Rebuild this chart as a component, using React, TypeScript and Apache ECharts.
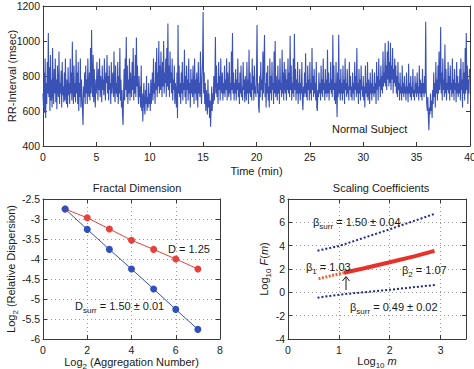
import React, { useEffect, useRef } from "react";
import * as echarts from "echarts";

const rrTimeStep = 0.05;
const rrValues = [
  700, 620, 820, 590, 900, 560, 760, 640, 880, 700, 1046, 680, 850, 600, 920, 660, 780, 620, 960, 700,
  640, 840, 700, 900, 650, 780, 610, 860, 720, 680, 940, 640, 760, 700, 830, 620, 880, 690, 740, 650,
  820, 660, 900, 700, 640, 780, 620, 850, 690, 760, 640, 900, 700, 820, 660, 995, 720, 640, 860, 680,
  760, 650, 950, 700, 820, 640, 880, 600, 760, 680, 900, 620, 780, 700, 600, 520, 740, 680, 820, 640,
  860, 700, 780, 640, 900, 720, 680, 820, 660, 960, 700, 1063, 760, 680, 920, 650, 840, 700, 620, 780,
  700, 880, 760, 660, 840, 720, 900, 680, 800, 740, 650, 860, 720, 780, 690, 900, 740, 660, 820, 760,
  920, 700, 800, 660, 860, 720, 760, 640, 880, 700, 780, 820, 680, 940, 720, 650, 860, 700, 760, 680,
  880, 640, 800, 700, 960, 660, 780, 620, 720, 580, 520, 700, 840, 660, 900, 720, 1023, 680, 860, 640,
  780, 700, 900, 660, 820, 740, 680, 880, 720, 960, 660, 800, 700, 920, 680, 1020, 740, 860, 700, 640,
  800, 680, 740, 620, 860, 600, 700, 540, 660, 760, 620, 580, 720, 640, 800, 600, 680, 620, 760, 640,
  700, 600, 780, 640, 720, 820, 660, 900, 700, 760, 640, 880, 720, 960, 680, 820, 740, 1000, 700, 860,
  720, 940, 760, 680, 880, 740, 1000, 700, 820, 760, 900, 680, 960, 740, 1100, 720, 860, 680, 940, 760,
  820, 700, 900, 660, 780, 720, 860, 640, 760, 700, 620, 820, 560, 1091, 700, 860, 680, 760, 640, 820,
  700, 880, 660, 760, 720, 950, 680, 800, 640, 860, 720, 780, 660, 900, 700, 760, 620, 840, 700, 780,
  680, 860, 720, 640, 900, 700, 780, 660, 820, 740, 620, 880, 700, 760, 680, 940, 720, 640, 800, 880,
  1166, 700, 820, 640, 760, 600, 720, 660, 580, 780, 620, 700, 560, 660, 510, 620, 740, 600, 700, 640,
  800, 660, 760, 1023, 700, 860, 680, 760, 640, 880, 720, 800, 660, 900, 740, 700, 820, 660, 760, 700,
  860, 680, 780, 720, 900, 660, 820, 740, 680, 880, 700, 760, 660, 940, 720, 1045, 700, 820, 660, 760,
  700, 840, 660, 780, 720, 900, 680, 760, 640, 820, 700, 860, 680, 740, 660, 880, 720, 780, 650, 800,
  720, 660, 880, 700, 780, 640, 950, 700, 820, 680, 760, 660, 900, 720, 800, 660, 860, 700, 740, 680,
  820, 1091, 700, 760, 620, 590, 800, 680, 880, 720, 780, 660, 940, 700, 860, 1034, 680, 760, 620, 820,
  700, 860, 660, 740, 620, 900, 700, 800, 660, 880, 720, 760, 640, 940, 700, 1000, 680, 800, 720, 660,
  860, 700, 780, 640, 900, 720, 760, 680, 950, 700, 820, 660, 880, 740, 700, 840, 660, 780, 720, 900,
  700, 820, 680, 1030, 720, 860, 660, 760, 700, 900, 680, 1040, 720, 840, 660, 780, 700, 880, 640, 760,
  700, 840, 660, 760, 700, 880, 660, 605, 740, 680, 820, 700, 930, 680, 760, 660, 860, 720, 780, 660,
  880, 700, 760, 660, 960, 720, 800, 680, 840, 700, 760, 660, 880, 620, 600, 720, 680, 820, 700, 760,
  660, 860, 700, 780, 680, 900, 720, 760, 660, 840, 700, 780, 680, 950, 700, 820, 660, 760, 720, 880,
  700, 780, 680, 1034, 720, 860, 660, 760, 640, 880, 700, 566, 820, 680, 1036, 700, 780, 660, 840, 700,
  760, 660, 860, 700, 780, 640, 900, 720, 760, 680, 840, 700, 740, 660, 880, 720, 800, 680, 740, 660,
  820, 700, 760, 660, 880, 720, 800, 680, 960, 700, 760, 640, 840, 700, 780, 660, 860, 720, 740, 680,
  800, 660, 740, 620, 860, 700, 760, 680, 880, 660, 780, 720, 640, 820, 700, 760, 660, 840, 700, 740,
  680, 820, 700, 760, 640, 880, 720, 800, 660, 900, 740, 780, 680, 860, 720, 800, 700, 940, 740, 820,
  760, 988, 740, 860, 720, 940, 780, 1000, 740, 880, 760, 990, 720, 860, 780, 960, 700, 840, 760, 900,
  740, 860, 700, 800, 680, 880, 720, 760, 660, 820, 700, 740, 660, 860, 700, 760, 680, 800, 700, 740,
  660, 820, 700, 740, 650, 870, 700, 760, 680, 800, 660, 740, 700, 840, 680, 720, 660, 800, 700, 760,
  680, 820, 700, 740, 660, 860, 700, 780, 680, 760, 660, 840, 700, 760, 680, 800, 700, 1110, 720, 640,
  600, 680, 560, 490, 620, 580, 700, 600, 660, 560, 720, 640, 820, 680, 760, 620, 880, 700, 780, 660,
  860, 700, 940, 720, 780, 1080, 700, 820, 660, 900, 720, 780, 680, 980, 700, 840, 660, 760, 720, 880,
  700, 800, 660, 860, 720, 760, 680, 900, 700, 780, 660, 840, 720, 760, 650, 880, 700, 800, 680, 760,
  700, 840, 660, 900, 720, 780, 620, 880, 700, 820, 660, 960, 700, 1045, 720, 860, 640, 780, 700, 840,
];

// Fractal dimension panel
const fdX = [1, 2, 3, 4, 5, 6, 7];
const fdData = [-2.75, -2.97, -3.25, -3.53, -3.76, -4.0, -4.25];
const fdSurr = [-2.75, -3.26, -3.76, -4.25, -4.75, -5.26, -5.76];

// Scaling coefficients panel (Log10 m, Log10 F(m))
const scUpperX = [0.58, 1.0, 2.0, 2.89];
const scUpperY = [3.57, 3.97, 5.4, 6.74];
const scLowerX = [0.58, 1.0, 2.0, 2.89];
const scLowerY = [-0.46, -0.2, 0.22, 0.63];
const scBeta1X = [0.6, 0.85, 1.1];
const scBeta1Y = [1.17, 1.42, 1.68];
const scBeta2X = [1.1, 1.5, 2.0, 2.5, 2.88];
const scBeta2Y = [1.68, 2.07, 2.58, 3.1, 3.55];

const FONT = "Liberation Sans, Arial, sans-serif";
const TXT = "#1a1a1a";
const FRAME = "#3a3a3a";

const zip = (xs: number[], ys: number[]) => xs.map((x, i) => [x, ys[i]]);

function axisPair(
  kind: "x" | "y",
  grid: number,
  min: number,
  max: number,
  interval: number,
  opts: any
) {
  const main: any = {
    type: "value",
    gridIndex: grid,
    min,
    max,
    interval,
    position: kind === "x" ? "bottom" : "left",
    axisLine: { show: true, onZero: false, lineStyle: { color: FRAME, width: 1 } },
    axisTick: { show: true, inside: true, length: 4, lineStyle: { color: FRAME } },
    axisLabel: {
      color: TXT,
      fontSize: 10.5,
      fontFamily: FONT,
      margin: kind === "x" ? 5 : 3,
      showMinLabel: true,
      showMaxLabel: true,
      formatter: (v: number) => String(v),
    },
    splitLine: opts.grid
      ? { show: true, lineStyle: { color: "#9a9a9a", type: [1, 3], width: 1 } }
      : { show: false },
    nameLocation: "middle",
    nameMoveOverlap: false,
    nameTextStyle: { color: TXT, fontSize: 11, fontFamily: FONT, rich: opts.rich },
    name: opts.name,
    nameGap: opts.nameGap,
  };
  const second: any = {
    type: "value",
    gridIndex: grid,
    min,
    max,
    interval,
    position: kind === "x" ? "top" : "right",
    axisLine: { show: true, onZero: false, lineStyle: { color: FRAME, width: 1 } },
    axisTick: { show: true, inside: true, length: 4, lineStyle: { color: FRAME } },
    axisLabel: { show: false },
    splitLine: { show: false },
  };
  return [main, second];
}

const subRich = {
  a: { fontSize: 11, fontFamily: FONT, color: TXT, lineHeight: 16, verticalAlign: "middle" },
  i: { fontSize: 11, fontFamily: FONT, color: TXT, fontStyle: "italic", lineHeight: 16, verticalAlign: "middle" },
  s: { fontSize: 8, fontFamily: FONT, color: TXT, lineHeight: 16, verticalAlign: "bottom" },
};

export default function App() {
  const ref = useRef<HTMLDivElement>(null);
  useEffect(() => {
    if (!ref.current) return;
    const chart = echarts.init(ref.current, null, { renderer: "svg" });

    const x0 = axisPair("x", 0, 0, 40, 5, { name: "Time (min)", nameGap: 19 });
    const y0 = axisPair("y", 0, 400, 1200, 200, { name: "RR-Interval (msec)", nameGap: 26 });
    const x1 = axisPair("x", 1, 0, 8, 2, {
      grid: true,
      name: "{a|Log}{s|2}{a| (Aggregation Number)}",
      nameGap: 15,
      rich: subRich,
    });
    const y1 = axisPair("y", 1, -6, -2.5, 0.5, {
      grid: true,
      name: "{a|Log}{s|2}{a| (Relative Dispersion)}",
      nameGap: 24,
      rich: subRich,
    });
    const x2 = axisPair("x", 2, 0, 3.5, 1, {
      grid: true,
      name: "{a|Log}{s|10}{a| }{i|m}",
      nameGap: 14,
      rich: subRich,
    });
    const y2 = axisPair("y", 2, -4, 8, 2, {
      grid: true,
      name: "{a|Log}{s|10}{a| }{i|F}{a|(}{i|m}{a|)}",
      nameGap: 16,
      rich: subRich,
    });
    // the 3.5 end of this axis carries no label in the reference
    x2[0].axisLabel.showMaxLabel = false;

    const textEl = (x: number, y: number, text: string, align = "left") => ({
      type: "text",
      x,
      y,
      style: {
        text,
        fill: TXT,
        fontSize: 11,
        fontFamily: FONT,
        align,
        verticalAlign: "middle",
        rich: subRich,
      },
      z: 100,
    });

    const gridBase = { containLabel: false, outerBoundsMode: "none" };

    const option: any = {
      animation: false,
      backgroundColor: "#ffffff",
      title: [
        {
          text: "Fractal Dimension",
          left: 132,
          top: 177,
          textAlign: "center",
          textStyle: { fontSize: 11, fontWeight: "normal", color: TXT, fontFamily: FONT },
        },
        {
          text: "Scaling Coefficients",
          left: 376,
          top: 177,
          textAlign: "center",
          textStyle: { fontSize: 11, fontWeight: "normal", color: TXT, fontFamily: FONT },
        },
      ],
      grid: [
        { ...gridBase, left: 43, top: 6, width: 427, height: 140 },
        { ...gridBase, left: 43, top: 199, width: 177, height: 140 },
        { ...gridBase, left: 288, top: 199, width: 178, height: 140 },
      ],
      xAxis: [...x0, ...x1, ...x2],
      yAxis: [...y0, ...y1, ...y2],
      series: [
        {
          type: "line",
          xAxisIndex: 0,
          yAxisIndex: 0,
          data: rrValues.map((v, i) => [i * rrTimeStep, v]),
          showSymbol: false,
          symbol: "none",
          lineStyle: { color: "#3a52b6", width: 1.1 },
        },
        {
          type: "line",
          xAxisIndex: 2,
          yAxisIndex: 2,
          data: zip(fdX, fdData),
          symbol: "circle",
          symbolSize: 7,
          itemStyle: { color: "#e8413c" },
          lineStyle: { color: "#e8413c", width: 1 },
        },
        {
          type: "line",
          xAxisIndex: 2,
          yAxisIndex: 2,
          data: zip(fdX, fdSurr),
          symbol: "circle",
          symbolSize: 7,
          itemStyle: { color: "#3350b8" },
          lineStyle: { color: "#3350b8", width: 1 },
        },
        {
          type: "line",
          xAxisIndex: 4,
          yAxisIndex: 4,
          data: zip(scUpperX, scUpperY),
          symbol: "none",
          lineStyle: { color: "#1f2a96", width: 2, type: [2, 2] },
        },
        {
          type: "line",
          xAxisIndex: 4,
          yAxisIndex: 4,
          data: zip(scLowerX, scLowerY),
          symbol: "none",
          lineStyle: { color: "#1f2a96", width: 2, type: [2, 2] },
        },
        {
          type: "line",
          xAxisIndex: 4,
          yAxisIndex: 4,
          data: zip(scBeta1X, scBeta1Y),
          symbol: "none",
          lineStyle: { color: "#e36a3e", width: 3, type: [2, 1.5] },
        },
        {
          type: "line",
          xAxisIndex: 4,
          yAxisIndex: 4,
          data: zip(scBeta2X, scBeta2Y),
          symbol: "none",
          lineStyle: { color: "#e8312b", width: 4 },
        },
      ],
      graphic: [
        textEl(332, 129, "Normal Subject"),
        textEl(168, 249, "D = 1.25"),
        textEl(75, 306, "{a|D}{s|surr}{a| = 1.50 ± 0.01}"),
        textEl(313, 222, "{a|β}{s|surr}{a| = 1.50 ± 0.04}"),
        textEl(306, 267, "{a|β}{s|1}{a| = 1.03}"),
        textEl(402, 270, "{a|β}{s|2}{a| = 1.07}"),
        textEl(350, 307, "{a|β}{s|surr}{a| = 0.49 ± 0.02}"),
        {
          type: "line",
          shape: { x1: 346, y1: 290, x2: 346, y2: 277 },
          style: { stroke: TXT, lineWidth: 1 },
          z: 100,
        },
        {
          type: "polyline",
          shape: { points: [[342.5, 281], [346, 276.5], [349.5, 281]] },
          style: { stroke: TXT, lineWidth: 1, fill: "none" },
          z: 100,
        },
      ],
    };
    chart.setOption(option);
    return () => chart.dispose();
  }, []);
  return (
    <div
      ref={ref}
      style={{ position: "absolute", left: 0, top: 0, width: 474, height: 369 }}
    />
  );
}
